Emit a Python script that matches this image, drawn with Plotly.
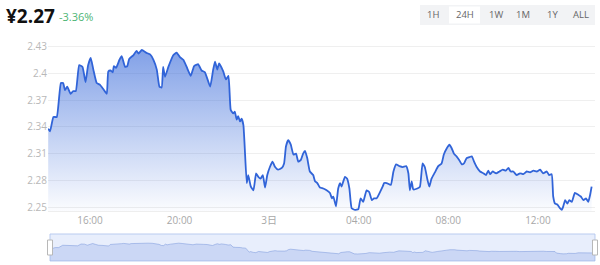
import pandas as pd
import plotly.graph_objects as go

# ---- data ----
base_time = "2024-06-02 14:00"
minutes = [8, 13, 22, 31, 42, 48, 53, 59, 68, 75, 82, 91, 100, 108, 115, 122, 129, 138, 147, 156,
           165, 169, 175, 181, 184, 190, 199, 205, 214, 220, 225, 236, 245, 250, 259, 270, 281, 290, 299, 306,
           312, 316, 321, 330, 343, 352, 361, 370, 379, 390, 399, 410, 419, 428, 442, 450, 455, 461, 466, 477,
           484, 491, 497, 504, 508, 513, 517, 522, 526, 531, 540, 544, 551, 558, 565, 571, 577, 583, 589, 595,
           602, 609, 616, 624, 634, 640, 645, 651, 658, 665, 672, 678, 685, 691, 696, 702, 709, 718, 723, 729,
           736, 745, 754, 763, 768, 772, 779, 785, 790, 794, 803, 809, 815, 821, 830, 839, 845, 852, 861, 868,
           875, 881, 888, 897, 904, 908, 915, 926, 933, 940, 949, 958, 967, 973, 977, 982, 986, 997, 1004, 1011,
           1017, 1024, 1029, 1035, 1044, 1053, 1062, 1068, 1076, 1083, 1089, 1095, 1102, 1109, 1116, 1122, 1129, 1136, 1143, 1149,
           1156, 1165, 1174, 1181, 1187, 1192, 1199, 1208, 1217, 1226, 1234, 1241, 1247, 1254, 1263, 1272, 1281, 1290, 1299, 1308,
           1317, 1326, 1334, 1344, 1350, 1357, 1361, 1366, 1372, 1379, 1384, 1388, 1393, 1399, 1404, 1411, 1419, 1428, 1435, 1442,
           1449, 1455, 1460, 1464]
prices = [2.338, 2.335, 2.351, 2.351, 2.389, 2.389, 2.381, 2.385, 2.377, 2.380, 2.380, 2.409, 2.407, 2.390, 2.409, 2.417, 2.404, 2.389, 2.387, 2.382,
          2.377, 2.402, 2.403, 2.401, 2.408, 2.406, 2.415, 2.419, 2.407, 2.408, 2.416, 2.420, 2.425, 2.422, 2.426, 2.423, 2.421, 2.415, 2.404, 2.385,
          2.384, 2.407, 2.396, 2.407, 2.420, 2.423, 2.418, 2.415, 2.407, 2.397, 2.408, 2.410, 2.403, 2.401, 2.385, 2.404, 2.413, 2.404, 2.411, 2.402,
          2.393, 2.397, 2.359, 2.355, 2.357, 2.348, 2.352, 2.346, 2.349, 2.342, 2.277, 2.286, 2.273, 2.269, 2.288, 2.284, 2.282, 2.286, 2.272, 2.286,
          2.295, 2.301, 2.295, 2.292, 2.294, 2.299, 2.318, 2.325, 2.320, 2.309, 2.310, 2.301, 2.303, 2.310, 2.313, 2.305, 2.290, 2.286, 2.279, 2.277,
          2.272, 2.271, 2.269, 2.266, 2.260, 2.262, 2.251, 2.271, 2.277, 2.273, 2.284, 2.282, 2.271, 2.249, 2.247, 2.248, 2.260, 2.256, 2.269, 2.267,
          2.258, 2.260, 2.260, 2.267, 2.273, 2.277, 2.277, 2.275, 2.290, 2.298, 2.296, 2.295, 2.296, 2.288, 2.269, 2.279, 2.270, 2.271, 2.273, 2.299,
          2.295, 2.281, 2.273, 2.282, 2.289, 2.296, 2.299, 2.309, 2.316, 2.320, 2.316, 2.310, 2.307, 2.303, 2.298, 2.299, 2.305, 2.306, 2.307, 2.301,
          2.295, 2.290, 2.288, 2.286, 2.291, 2.287, 2.290, 2.288, 2.290, 2.292, 2.291, 2.294, 2.290, 2.290, 2.286, 2.288, 2.287, 2.290, 2.289, 2.291,
          2.290, 2.292, 2.288, 2.290, 2.286, 2.287, 2.262, 2.254, 2.253, 2.249, 2.247, 2.251, 2.258, 2.254, 2.258, 2.256, 2.266, 2.264, 2.262, 2.258,
          2.260, 2.256, 2.264, 2.273]
y_ticks = [2.25, 2.28, 2.31, 2.34, 2.37, 2.40, 2.43]
y_tick_text = ["2.25", "2.28", "2.31", "2.34", "2.37", "2.4", "2.43"]
x_tick_times = ["2024-06-02 16:00", "2024-06-02 20:00", "2024-06-03 00:00",
                "2024-06-03 04:00", "2024-06-03 08:00", "2024-06-03 12:00"]
x_tick_text = ["16:00", "20:00", "3日", "04:00", "08:00", "12:00"]
price_label = "¥2.27"
change_label = "-3.36%"
range_buttons = ["1H", "24H", "1W", "1M", "1Y", "ALL"]
selected_button = "24H"

# ---- figure ----
t0 = pd.Timestamp(base_time)
times = t0 + pd.to_timedelta(minutes, unit="min")
x_range = [t0 + pd.Timedelta(minutes=7.5), t0 + pd.Timedelta(minutes=1473)]

W, H = 600, 265
def px(x):
    return x / W
def py(y):
    return 1 - y / H

FONT = "Open Sans, Noto Sans CJK SC, sans-serif"
LINE = "#3164d8"

fig = go.Figure()
fig.add_trace(go.Scatter(
    x=times, y=prices, mode="lines",
    line=dict(color=LINE, width=1.8, shape="spline", smoothing=0.4),
    fill="tozeroy",
    fillgradient=dict(type="vertical", start=2.2458, stop=2.43,
                      colorscale=[[0, "rgba(49,100,216,0.02)"], [1, "rgba(49,100,216,0.62)"]]),
    hoverinfo="skip", showlegend=False, xaxis="x", yaxis="y"))

fig.add_trace(go.Scatter(
    x=times, y=prices, mode="lines",
    line=dict(color="rgba(120,150,220,0.5)", width=1),
    fill="tozeroy", fillcolor="rgba(120,150,225,0.26)",
    hoverinfo="skip", showlegend=False, xaxis="x2", yaxis="y2"))

fig.update_layout(
    width=W, height=H,
    margin=dict(l=0, r=0, t=0, b=0),
    paper_bgcolor="white", plot_bgcolor="white",
    font=dict(family=FONT, color="#aaaaaa", size=10),
    xaxis=dict(domain=[px(48), px(595)], range=x_range, type="date",
               tickvals=pd.to_datetime(x_tick_times), ticktext=x_tick_text,
               showgrid=False, showline=True, linecolor="#eeeeee", linewidth=1,
               ticks="", tickfont=dict(size=10, color="#a8a8a8"), automargin=False,
               zeroline=False, fixedrange=True),
    yaxis=dict(domain=[py(211), py(37)], range=[2.2458, 2.4405],
               tickvals=y_ticks, ticktext=y_tick_text,
               showgrid=True, gridcolor="#efefef", gridwidth=1,
               ticks="", tickfont=dict(size=10, color="#b8b8b8"), automargin=False,
               zeroline=False, showline=False, fixedrange=True),
    xaxis2=dict(domain=[px(50), px(595)], range=[times[0], times[-1]], type="date",
                showticklabels=False, showgrid=False, zeroline=False, showline=False,
                anchor="y2", automargin=False, fixedrange=True),
    yaxis2=dict(domain=[py(261), py(234)], range=[2.133, 2.572],
                showticklabels=False, showgrid=False, zeroline=False, showline=False,
                anchor="x2", automargin=False, fixedrange=True),
)

shapes = []
# slider background
shapes.append(dict(type="rect", xref="paper", yref="paper", x0=px(50), x1=px(595), y0=py(261), y1=py(234),
                   fillcolor="rgba(205,218,248,0.45)", line=dict(color="rgba(180,198,238,0.9)", width=1), layer="below"))
# slider handles
for hx in (50, 595):
    shapes.append(dict(type="rect", xref="paper", yref="paper", x0=px(hx - 2.5), x1=px(hx + 2.5),
                       y0=py(255), y1=py(240), fillcolor="white",
                       line=dict(color="#b8b8b8", width=1)))
# button group background
shapes.append(dict(type="rect", xref="paper", yref="paper", x0=px(420), x1=px(595), y0=py(25), y1=py(5),
                   fillcolor="#f2f3f5", line=dict(width=0), layer="below"))
btn_centers = [433, 465, 496, 523, 552, 581]
for name, cx in zip(range_buttons, btn_centers):
    if name == selected_button:
        shapes.append(dict(type="rect", xref="paper", yref="paper", x0=px(cx - 16), x1=px(cx + 15),
                           y0=py(23.5), y1=py(6.5), fillcolor="white", line=dict(width=0)))
fig.update_layout(shapes=shapes)

ann = []
ann.append(dict(text="<b>" + price_label + "</b>", x=px(4), y=py(16), xref="paper", yref="paper",
                xanchor="left", yanchor="middle", showarrow=False,
                font=dict(family=FONT, size=19, color="#111111")))
ann.append(dict(text=change_label, x=px(57), y=py(17), xref="paper", yref="paper",
                xanchor="left", yanchor="middle", showarrow=False,
                font=dict(family=FONT, size=11, color="#4cb574")))
for name, cx in zip(range_buttons, btn_centers):
    ann.append(dict(text=name, x=px(cx), y=py(15), xref="paper", yref="paper",
                    xanchor="center", yanchor="middle", showarrow=False,
                    font=dict(family=FONT, size=9.5, color="#666666")))
fig.update_layout(annotations=ann)

fig.write_html("out.html", config={"displayModeBar": False})
